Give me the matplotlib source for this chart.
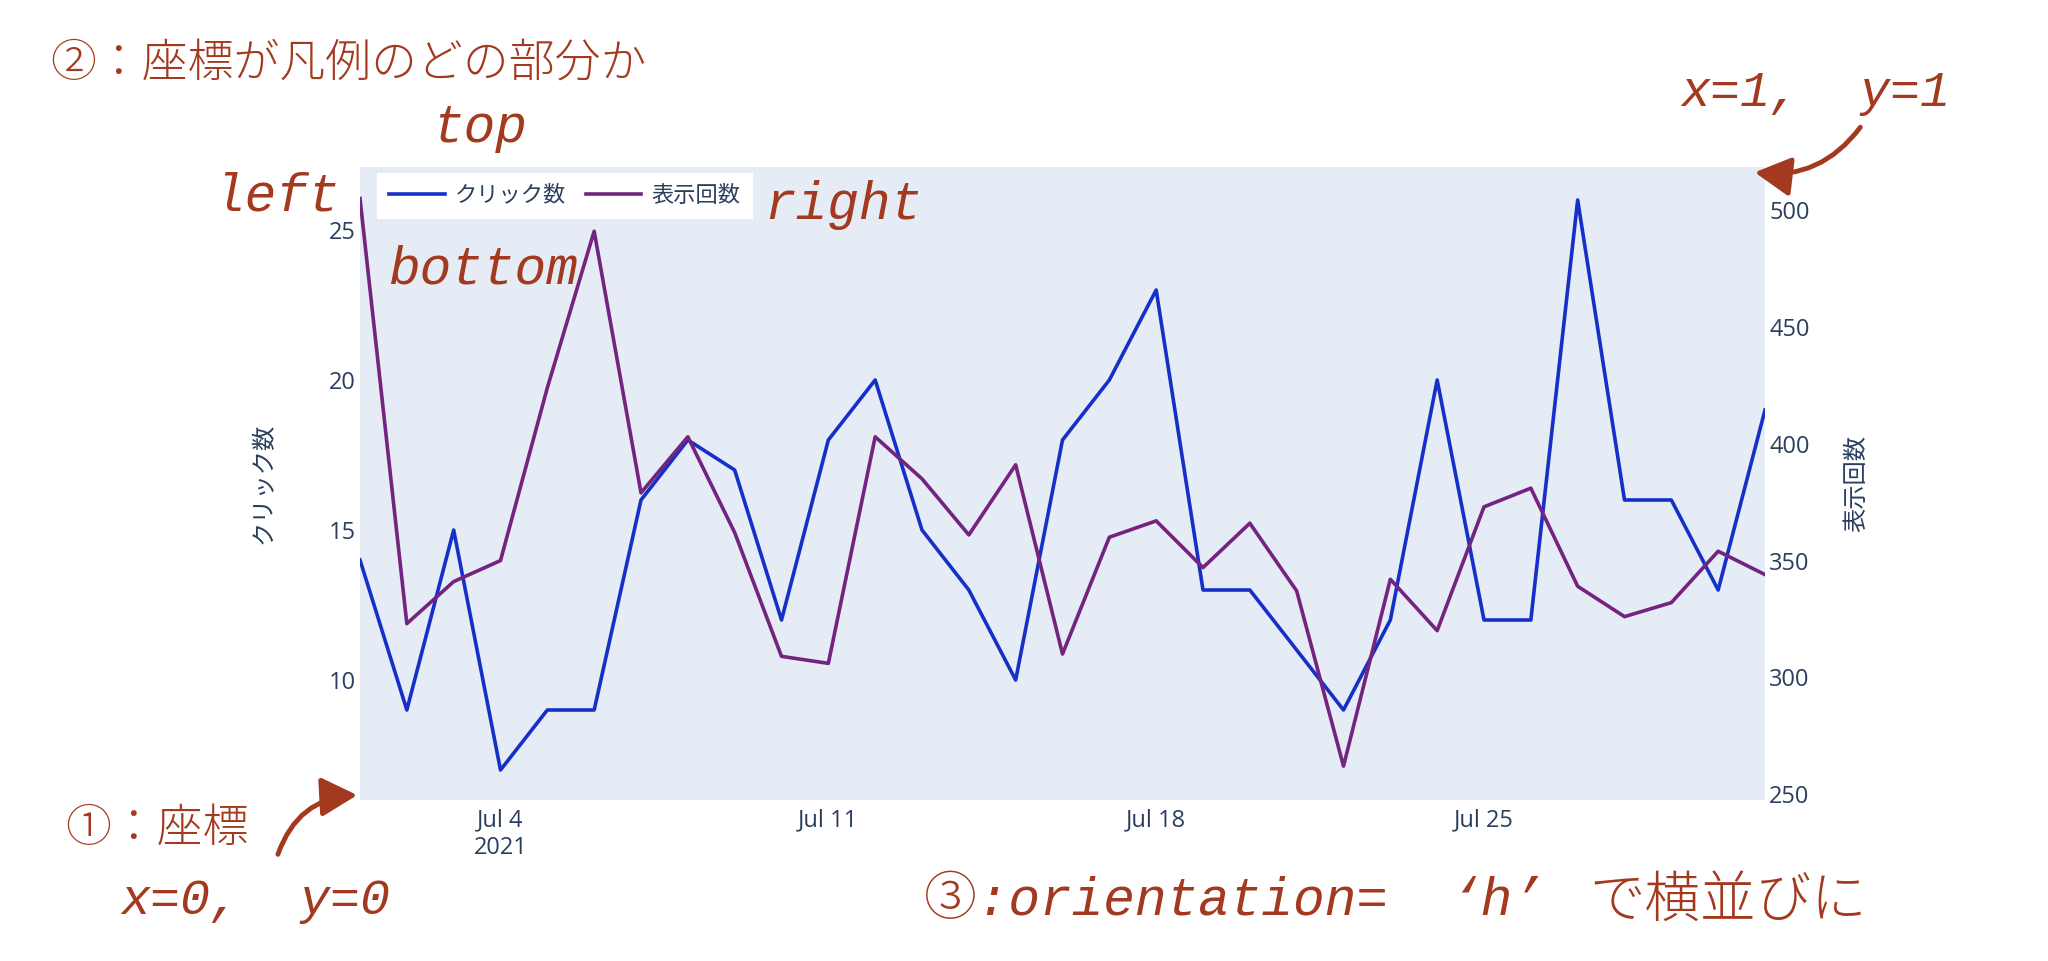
import numpy as np
import pandas as pd
import matplotlib
matplotlib.use('agg')
import matplotlib.pyplot as plt
import matplotlib.dates as mdates
from matplotlib.ticker import FuncFormatter

plt.rcParams['font.family'] = ['Open Sans', 'Noto Sans CJK JP', 'DejaVu Sans']

# data (July 2021, daily)
dates = pd.date_range('2021-07-01', '2021-07-31', freq='D')
clicks = [14, 9, 15, 7, 9, 9, 16, 18, 17, 12, 18, 20, 15, 13, 10, 18,
          20, 23, 13, 13, 11, 9, 12, 20, 12, 12, 26, 16, 16, 13, 19]
impressions = [505, 323, 341, 350, 424, 491, 379, 403, 362, 309, 306, 403,
               385, 361, 391, 310, 360, 367, 347, 366, 337, 262, 342, 320,
               373, 381, 339, 326, 332, 354, 344]
left_ticks = [10, 15, 20, 25]
right_ticks = [250, 300, 350, 400, 450, 500]

BLUE = '#1530c8'
PURPLE = '#74237f'
TXT = '#2a3f5f'
HAND = '#a3391f'

fig = plt.figure(figsize=(20.48, 9.61), dpi=100)
ax = fig.add_axes([360 / 2048, 1 - 800 / 961, 1405 / 2048, 633 / 961])
ax2 = ax.twinx()
ax.set_facecolor('#e5ecf6')

l1, = ax.plot(dates, clicks, color=BLUE, lw=2.6, label='クリック数')
l2, = ax2.plot(dates, impressions, color=PURPLE, lw=2.6, label='表示回数')

ax.set_xlim(dates[0], dates[-1])
ax.set_ylim(6.0, 27.1)
ax2.set_ylim(247.5, 518.5)
ax.set_yticks(left_ticks)
ax2.set_yticks(right_ticks)

ax.xaxis.set_major_locator(mdates.DayLocator(bymonthday=[4, 11, 18, 25]))
def fmt_date(x, pos):
    d = mdates.num2date(x)
    s = d.strftime('%b ') + str(d.day)
    if pos == 0:
        s += '\n' + str(d.year)
    return s
ax.xaxis.set_major_formatter(FuncFormatter(fmt_date))

for a in (ax, ax2):
    for sp in a.spines.values():
        sp.set_visible(False)
ax.tick_params(axis='both', length=0, labelsize=17, labelcolor=TXT)
ax.tick_params(axis='y', pad=3)
ax.tick_params(axis='x', pad=6)
ax2.tick_params(axis='y', length=0, labelsize=17, labelcolor=TXT, pad=3)

ax.set_ylabel('クリック数', fontsize=17.5, color=TXT)
ax2.set_ylabel('表示回数', fontsize=17.5, color=TXT, rotation=90)
ax.yaxis.set_label_coords(-0.059, 0.5)
ax2.yaxis.set_label_coords(1.057, 0.5)

leg = ax.legend(handles=[l1, l2], loc='upper left', bbox_to_anchor=(0.012, 0.99),
                ncol=2, fontsize=16, frameon=True, fancybox=False, framealpha=1,
                handlelength=2.5, handletextpad=0.45, columnspacing=0.9,
                borderpad=0.55, borderaxespad=0)
leg.get_frame().set_facecolor('white')
leg.get_frame().set_linewidth(0)
for t in leg.get_texts():
    t.set_color(TXT)

# handwritten-style notes
hand = ['Liberation Mono', 'Noto Sans CJK JP']
cjk = ['Noto Sans CJK JP', 'DejaVu Sans']
def note(x, y, s, fam, size, ha='center'):
    fig.text(x / 2048, 1 - y / 961, s, family=fam, fontsize=size, color=HAND,
             ha=ha, va='center', fontweight='light',
             style='italic' if fam is hand else 'normal')

note(50, 65, '②：座標が凡例のどの部分か', cjk, 33, ha='left')
note(480, 128, 'top', hand, 38)
note(276, 196, 'left', hand, 38)
note(843, 205, 'right', hand, 38)
note(483, 270, 'bottom', hand, 38)
note(1815, 93, 'x=1,  y=1', hand, 36)
note(65, 829, '①：座標', cjk, 33, ha='left')
note(255, 901, 'x=0,  y=0', hand, 36)
note(924, 901, '③:orientation=', hand, 38, ha='left')
note(1497, 901, '‘h’', hand, 38)
note(1589, 901, 'で横並びに', cjk, 40, ha='left')

fig.patches.append(matplotlib.patches.FancyArrowPatch(
    (277 / 2048, 1 - 857 / 961), (360 / 2048, 1 - 795 / 961),
    transform=fig.transFigure, connectionstyle='arc3,rad=-0.35',
    arrowstyle='-|>,head_length=1.1,head_width=0.6', mutation_scale=20,
    lw=3.5, color=HAND))
fig.patches.append(matplotlib.patches.FancyArrowPatch(
    (1862 / 2048, 1 - 125 / 961), (1752 / 2048, 1 - 172 / 961),
    transform=fig.transFigure, connectionstyle='arc3,rad=-0.3',
    arrowstyle='-|>,head_length=1.1,head_width=0.6', mutation_scale=20,
    lw=3.5, color=HAND))

fig.savefig('out.png', dpi=100, facecolor='white')
